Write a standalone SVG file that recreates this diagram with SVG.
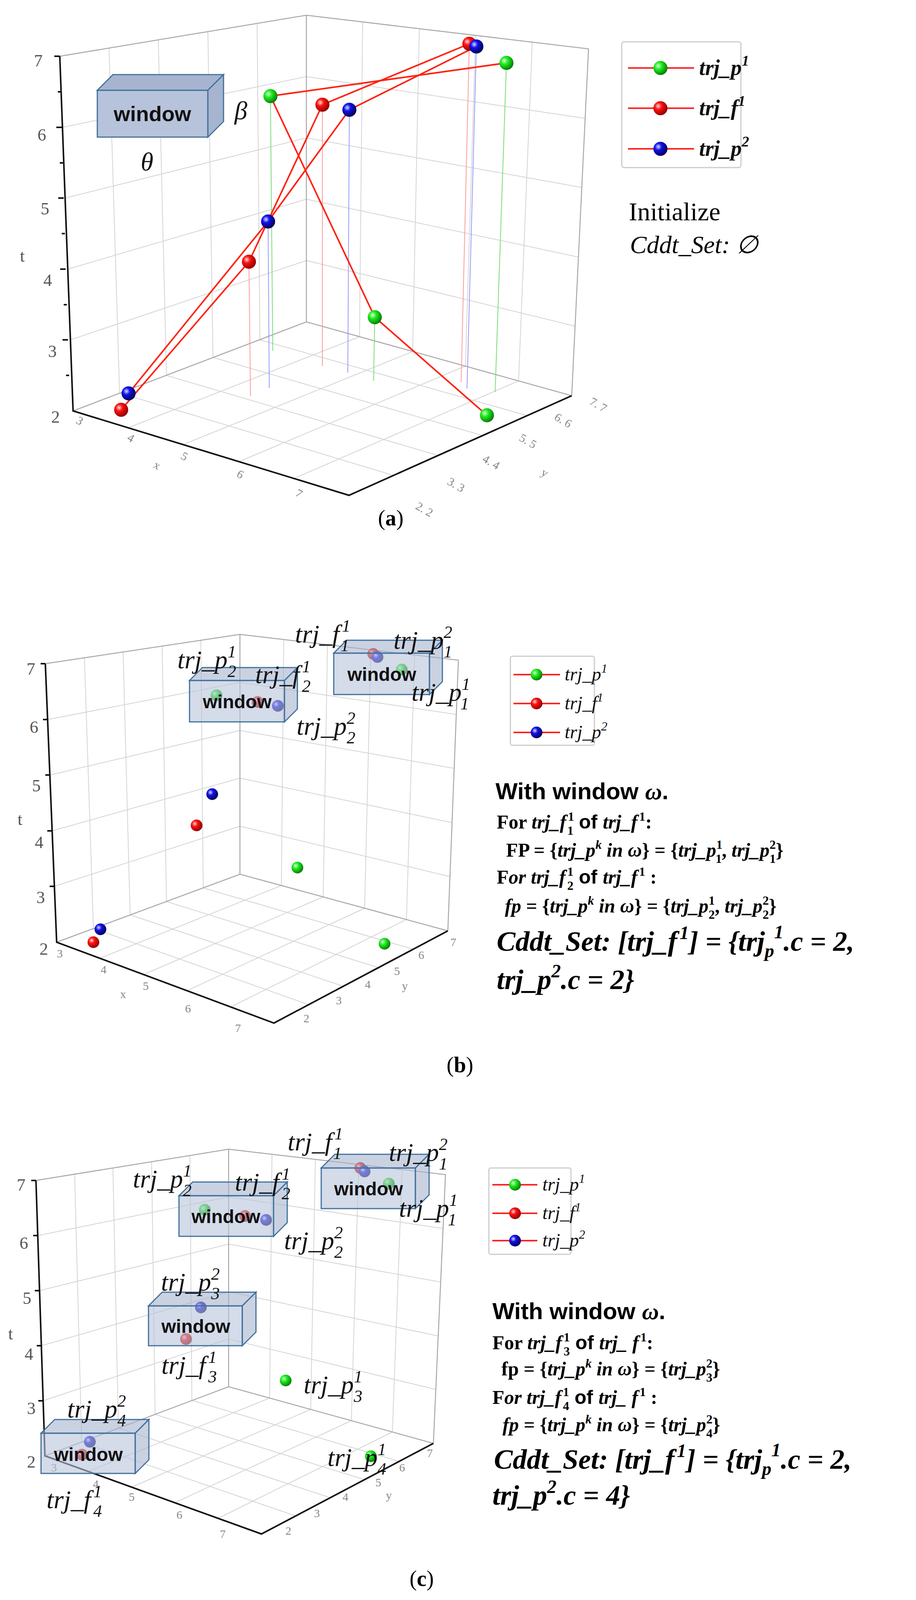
<svg xmlns="http://www.w3.org/2000/svg" width="2344" height="4107" viewBox="0 0 2344 4107">
<style>
.grid{stroke:#d4d4d4;stroke-width:2;fill:none}
.frame{stroke:#a8a8a8;stroke-width:2.5;fill:none}
.axis{stroke:#111;stroke-width:4;fill:none}
.traj{stroke:#f21;stroke-width:4;fill:none}
.dg{stroke:#7d7;stroke-width:2}.dr{stroke:#f99;stroke-width:2}.db{stroke:#99f;stroke-width:2}
.tk{font-family:"Liberation Serif",serif;font-size:44px;fill:#555;text-anchor:middle}
.tk2{font-family:"Liberation Serif",serif;font-size:30px;fill:#888;text-anchor:middle}
.lbl{font-family:"Liberation Serif",serif;font-style:italic;font-size:66px;fill:#111}
.lg{font-family:"Liberation Serif",serif;font-style:italic;font-weight:bold;font-size:56px;fill:#111}
.lg2{font-family:"Liberation Serif",serif;font-style:italic;font-size:48px;fill:#111}
.win{font-family:"Liberation Sans",sans-serif;font-weight:bold;text-anchor:middle;fill:#111}
.hd{font-family:"Liberation Sans",sans-serif;font-weight:bold;font-size:60px;fill:#000}
.tx{font-family:"Liberation Serif",serif;font-weight:bold;font-size:50px;fill:#000}
.big{font-family:"Liberation Serif",serif;font-style:italic;font-weight:bold;font-size:72px;fill:#000}
.it{font-style:italic}.sf{font-family:"Liberation Sans",sans-serif}.up{font-style:normal}
.bf{fill:#b7c3da;stroke:#41719c;stroke-width:3}
.bt{fill:#a6b4cf;stroke:#41719c;stroke-width:3}
.tb .bf,.tb .bt{fill-opacity:0.6}
.leg{fill:#fff;stroke:#ccc;stroke-width:3}
.lgl{stroke:#f22;stroke-width:4}
</style>
<defs>
<radialGradient id="gG" cx="0.35" cy="0.35" r="0.7"><stop offset="0" stop-color="#dfd"/><stop offset="0.35" stop-color="#2e2"/><stop offset="1" stop-color="#070"/></radialGradient>
<radialGradient id="gR" cx="0.35" cy="0.35" r="0.7"><stop offset="0" stop-color="#fdd"/><stop offset="0.35" stop-color="#f11"/><stop offset="1" stop-color="#800"/></radialGradient>
<radialGradient id="gB" cx="0.35" cy="0.35" r="0.7"><stop offset="0" stop-color="#ddf"/><stop offset="0.35" stop-color="#11e"/><stop offset="1" stop-color="#004"/></radialGradient>
</defs>
<rect width="2344" height="4107" fill="#fff"/>

<!-- ================= PANEL A ================= -->
<g id="panel-a-axes">
<g class="grid">
<path d="M180,870L784,667M173,689L784,510M167,507L784,353M160,326L784,196"/>
<path d="M279,123L306,1006M405,102L426,961M532,81L545,915M658,60L665,870"/>
<path d="M784,667L1472,835M784,510L1480,658M784,353L1489,480M784,196L1497,303"/>
<path d="M928,56L920,862M1073,73L1056,900M1217,91L1191,937M1362,108L1327,975"/>
<path d="M328,1095L920,862M469,1138L1056,900M611,1182L1191,937M752,1225L1327,975"/>
<path d="M306,1006L1007,1217M426,961L1121,1166M545,915L1235,1115M665,870L1349,1064"/>
</g>
<path class="frame" d="M153,144L784,39L1506,125L1463,1013M784,39L784,824M187,1052L784,824L1463,1013"/>
<path class="axis" d="M153,144L187,1052L893,1268L1463,1013"/>
<path class="axis" d="M153,144h-14M158,326h-14M163,507h-14M168,689h-14M174,870h-14M156,235h-8M161,417h-8M166,598h-8M171,780h-8M177,961h-8"/>
<text class="tk" x="98" y="170" font-size="56">7</text><text class="tk" x="107" y="360" font-size="56">6</text><text class="tk" x="115" y="549" font-size="56">5</text><text class="tk" x="122" y="732" font-size="56">4</text><text class="tk" x="134" y="914" font-size="56">3</text><text class="tk" x="142" y="1082" font-size="56">2</text>
<text class="tk" x="57" y="670" font-size="60">t</text>
<text class="tk2" x="204" y="1087" transform="rotate(30 204 1077)">3</text><text class="tk2" x="335" y="1131" transform="rotate(30 335 1121)">4</text><text class="tk2" x="472" y="1178" transform="rotate(30 472 1168)">5</text><text class="tk2" x="615" y="1224" transform="rotate(30 615 1214)">6</text><text class="tk2" x="765" y="1273" transform="rotate(30 765 1263)">7</text><text class="tk2" x="402" y="1201" transform="rotate(30 402 1191)">x</text>
<text class="tk2" x="1086" y="1314" transform="rotate(30 1086 1304)">2. 2</text><text class="tk2" x="1167" y="1251" transform="rotate(30 1167 1241)">3. 3</text><text class="tk2" x="1257" y="1193" transform="rotate(30 1257 1183)">4. 4</text><text class="tk2" x="1351" y="1139" transform="rotate(30 1351 1129)">5. 5</text><text class="tk2" x="1441" y="1086" transform="rotate(30 1441 1076)">6. 6</text><text class="tk2" x="1531" y="1046" transform="rotate(30 1531 1036)">7. 7</text><text class="tk2" x="1394" y="1220" transform="rotate(30 1394 1210)">y</text>
</g>
<g id="connectors-a">
<path class="dg" d="M692,246L698,898M959,812L956,975M1296,161L1267,1004"/>
<path class="dr" d="M825,268L825,937M637,670L641,1014M1201,112L1180,978"/>
<path class="db" d="M894,281L890,954M686,567L689,993M1219,119L1195,995"/>
<path class="traj" d="M310,1049L637,670L825,268L1201,112"/>
<path class="traj" d="M329,1007L686,567L894,281L1219,119"/>
<path class="traj" d="M1296,161L692,246L959,812L1246,1063"/>
</g>
<g id="points-a">
<circle cx="692" cy="246" r="18" fill="url(#gG)"/><circle cx="959" cy="812" r="18" fill="url(#gG)"/><circle cx="1296" cy="161" r="18" fill="url(#gG)"/><circle cx="1246" cy="1063" r="18" fill="url(#gG)"/>
<circle cx="825" cy="268" r="18" fill="url(#gR)"/><circle cx="637" cy="670" r="18" fill="url(#gR)"/><circle cx="310" cy="1049" r="18" fill="url(#gR)"/><circle cx="1201" cy="112" r="18" fill="url(#gR)"/>
<circle cx="894" cy="281" r="18" fill="url(#gB)"/><circle cx="686" cy="567" r="18" fill="url(#gB)"/><circle cx="329" cy="1007" r="18" fill="url(#gB)"/><circle cx="1219" cy="119" r="18" fill="url(#gB)"/>
</g>
<g id="window-a">
<rect class="bf" x="249" y="231" width="283" height="120"/>
<polygon class="bt" points="249,231 289,191 572,191 532,231"/>
<polygon class="bt" points="532,231 572,191 572,311 532,351"/>
<text class="win" x="390" y="310" font-size="54">window</text>
</g>
<text class="lbl" x="600" y="305" font-size="56">β</text>
<text class="lbl" x="360" y="436" font-size="56">θ</text>
<g id="legend-a">
<rect class="leg" x="1591" y="107" width="305" height="322" rx="6"/>
<path class="lgl" d="M1607,174h169M1607,277h169M1607,381h169"/>
<circle cx="1690" cy="174" r="18" fill="url(#gG)"/><circle cx="1690" cy="277" r="18" fill="url(#gR)"/><circle cx="1690" cy="381" r="18" fill="url(#gB)"/>
<text class="lg" x="1789" y="192">trj_p<tspan font-size="38" dy="-24">1</tspan></text>
<text class="lg" x="1789" y="295">trj_f<tspan font-size="38" dy="-24">1</tspan></text>
<text class="lg" x="1789" y="399">trj_p<tspan font-size="38" dy="-24">2</tspan></text>
</g>
<g id="text-a">
<text x="1609" y="564" font-family="Liberation Serif, serif" font-size="66">Initialize</text>
<text x="1612" y="648" font-family="Liberation Serif, serif" font-size="64" font-style="italic">Cddt_Set: ∅</text>
<text x="1000" y="1345" font-family="Liberation Serif, serif" font-size="56" text-anchor="middle">(<tspan font-weight="bold">a</tspan>)</text>
</g>

<!-- ================= PANEL B ================= -->
<g id="panel-b-axes">
<g class="grid">
<path d="M139,2269L614,2115M133,2127L614,1992M128,1984L614,1870M122,1842L614,1747"/>
<path d="M216,1684L239,2377M315,1669L333,2342M415,1654L426,2308M514,1639L520,2273"/>
<path d="M614,2115L1151,2244M614,1992L1157,2106M614,1870L1162,1967M614,1747L1168,1829"/>
<path d="M726,1637L720,2267M838,1650L827,2296M949,1664L933,2325M1061,1677L1040,2354"/>
<path d="M256,2453L720,2267M367,2495L827,2296M479,2536L933,2325M590,2578L1040,2354"/>
<path d="M239,2377L790,2572M333,2342L879,2525M426,2308L968,2477M520,2273L1057,2430"/>
</g>
<path class="frame" d="M116,1699L614,1624L1173,1690L1146,2383M614,1624L614,2238M145,2412L614,2238L1146,2383"/>
<path class="axis" d="M116,1699L145,2412L701,2619L1146,2383" stroke-width="3.5"/>
<path class="axis" stroke-width="3" d="M116,1699h-12M122,1842h-12M128,1984h-12M133,2127h-12M139,2269h-12"/>
<text class="tk" x="79" y="1727">7</text><text class="tk" x="87" y="1876">6</text><text class="tk" x="93" y="2026">5</text><text class="tk" x="100" y="2171">4</text><text class="tk" x="104" y="2312">3</text><text class="tk" x="112" y="2444">2</text>
<text class="tk" x="51" y="2112" font-size="52">t</text>
<g class="tk2"><text x="153" y="2451">3</text><text x="265" y="2492">4</text><text x="373" y="2534">5</text><text x="315" y="2555">x</text><text x="481" y="2592">6</text><text x="609" y="2642">7</text><text x="784" y="2617">2</text><text x="867" y="2571">3</text><text x="941" y="2530">4</text><text x="1016" y="2496">5</text><text x="1078" y="2455">6</text><text x="1160" y="2422">7</text><text x="1036" y="2534">y</text></g>
</g>
<g id="points-b">
<circle cx="257" cy="2379" r="15" fill="url(#gB)"/><circle cx="239" cy="2412" r="15" fill="url(#gR)"/>
<circle cx="543" cy="2033" r="15" fill="url(#gB)"/><circle cx="503" cy="2113" r="15" fill="url(#gR)"/>
<circle cx="761" cy="2221" r="15" fill="url(#gG)"/><circle cx="984" cy="2416" r="15" fill="url(#gG)"/>
<circle cx="554" cy="1780" r="15" fill="url(#gG)"/><circle cx="659" cy="1797" r="15" fill="url(#gR)"/><circle cx="711" cy="1807" r="15" fill="url(#gB)"/>
<circle cx="955" cy="1674" r="15" fill="url(#gR)"/><circle cx="966" cy="1682" r="15" fill="url(#gB)"/><circle cx="1028" cy="1714" r="15" fill="url(#gG)"/>
</g>
<g id="window-b1" class="tb">
<rect class="bf" x="485" y="1742" width="243" height="106"/>
<polygon class="bt" points="485,1742 518,1709 761,1709 728,1742"/>
<polygon class="bt" points="728,1742 761,1709 761,1815 728,1848"/>
<text class="win" x="607" y="1813" font-size="48">window</text>
</g>
<g id="window-b2" class="tb">
<rect class="bf" x="854" y="1672" width="245" height="106"/>
<polygon class="bt" points="854,1672 887,1639 1132,1639 1099,1672"/>
<polygon class="bt" points="1099,1672 1132,1639 1132,1745 1099,1778"/>
<text class="win" x="977" y="1743" font-size="48">window</text>
</g>
<g id="labels-b" class="lbl">
<text x="755" y="1645">trj_f<tspan font-size="44" dx="6" dy="-28">1</tspan><tspan font-size="44" dx="-22" dy="50">1</tspan></text>
<text x="1007" y="1661">trj_p<tspan font-size="44" dy="-28">2</tspan><tspan font-size="44" dx="-22" dy="50">1</tspan></text>
<text x="454" y="1711">trj_p<tspan font-size="44" dy="-28">1</tspan><tspan font-size="44" dx="-22" dy="50">2</tspan></text>
<text x="653" y="1749">trj_f<tspan font-size="44" dx="6" dy="-28">1</tspan><tspan font-size="44" dx="-22" dy="50">2</tspan></text>
<text x="1053" y="1794">trj_p<tspan font-size="44" dy="-28">1</tspan><tspan font-size="44" dx="-22" dy="50">1</tspan></text>
<text x="759" y="1881">trj_p<tspan font-size="44" dy="-28">2</tspan><tspan font-size="44" dx="-22" dy="50">2</tspan></text>
</g>
<g id="legend-b">
<rect class="leg" x="1306" y="1680" width="215" height="228" rx="5"/>
<path class="lgl" d="M1314,1727h119M1314,1801h119M1314,1875h119"/>
<circle cx="1373" cy="1727" r="15" fill="url(#gG)"/><circle cx="1373" cy="1801" r="15" fill="url(#gR)"/><circle cx="1373" cy="1875" r="15" fill="url(#gB)"/>
<text class="lg2" x="1445" y="1742">trj_p<tspan font-size="32" dy="-20">1</tspan></text>
<text class="lg2" x="1445" y="1816">trj_f<tspan font-size="32" dy="-20">1</tspan></text>
<text class="lg2" x="1445" y="1890">trj_p<tspan font-size="32" dy="-20">2</tspan></text>
</g>
<g id="text-b">
<text class="hd" x="1268" y="2046">With window <tspan font-family="Liberation Serif, serif" font-style="italic">ω</tspan>.</text>
<text class="tx" x="1271" y="2121">For <tspan class="it">trj_f</tspan><tspan font-size="32" dx="4" dy="-20">1</tspan><tspan font-size="32" dx="-16" dy="36">1</tspan><tspan class="sf" dy="-16"> of </tspan><tspan class="it">trj_f</tspan><tspan font-size="32" dx="4" dy="-20">1</tspan><tspan dy="20">:</tspan></text>
<text class="tx" x="1295" y="2193">FP = {<tspan class="it">trj_p</tspan><tspan class="it" font-size="32" dy="-20">k</tspan><tspan class="it" dy="20"> in ω</tspan>} = {<tspan class="it">trj_p</tspan><tspan font-size="32" dy="-20">1</tspan><tspan font-size="32" dx="-16" dy="36">1</tspan><tspan dy="-16">, </tspan><tspan class="it">trj_p</tspan><tspan font-size="32" dy="-20">2</tspan><tspan font-size="32" dx="-16" dy="36">1</tspan><tspan dy="-16">}</tspan></text>
<text class="tx" x="1271" y="2262">F<tspan class="it">or</tspan> <tspan class="it">trj_f</tspan><tspan font-size="32" dx="4" dy="-20">1</tspan><tspan font-size="32" dx="-16" dy="36">2</tspan><tspan class="sf" dy="-16"> of </tspan><tspan class="it">trj_f</tspan><tspan font-size="32" dx="4" dy="-20">1</tspan><tspan dy="20"> :</tspan></text>
<text class="tx" x="1292" y="2336"><tspan class="it">fp</tspan> = {<tspan class="it">trj_p</tspan><tspan class="it" font-size="32" dy="-20">k</tspan><tspan class="it" dy="20"> in ω</tspan>} = {<tspan class="it">trj_p</tspan><tspan font-size="32" dy="-20">1</tspan><tspan font-size="32" dx="-16" dy="36">2</tspan><tspan dy="-16">, </tspan><tspan class="it">trj_p</tspan><tspan font-size="32" dy="-20">2</tspan><tspan font-size="32" dx="-16" dy="36">2</tspan><tspan dy="-16">}</tspan></text>
<text class="big" x="1271" y="2434">Cddt_Set: [trj_f<tspan font-size="48" dx="6" dy="-30">1</tspan><tspan dy="30">] = {trj</tspan><tspan font-size="48" dy="16">p</tspan><tspan font-size="48" dy="-48">1</tspan><tspan dy="32">.c = 2,</tspan></text>
<text class="big" x="1271" y="2532">trj_p<tspan font-size="48" dy="-30">2</tspan><tspan dy="30">.c = 2}</tspan></text>
<text x="1177" y="2745" font-family="Liberation Serif, serif" font-size="56" text-anchor="middle">(<tspan font-weight="bold">b</tspan>)</text>
</g>

<!-- ================= PANEL C ================= -->
<g id="panel-c-axes">
<g class="grid">
<path d="M110,3586L585,3428M106,3445L585,3307M101,3304L585,3185M97,3163L585,3064"/>
<path d="M191,3006L209,3692M289,2990L303,3656M388,2974L397,3621M486,2958L491,3585"/>
<path d="M585,3428L1115,3557M585,3307L1121,3420M585,3185L1128,3282M585,3064L1134,3145"/>
<path d="M696,2955L690,3579M807,2968L795,3608M918,2981L899,3637M1029,2994L1004,3666"/>
<path d="M226,3767L690,3579M337,3807L795,3608M447,3847L899,3637M558,3887L1004,3666"/>
<path d="M209,3692L757,3881M303,3656L845,3834M397,3621L933,3788M491,3585L1021,3741"/>
</g>
<path class="frame" d="M92,3022L585,2942L1140,3007L1109,3695M585,2942L585,3550M115,3727L585,3550L1109,3695"/>
<path class="axis" stroke-width="3.5" d="M92,3022L115,3727L669,3927L1109,3695"/>
<path class="axis" stroke-width="3" d="M92,3022h-12M97,3163h-12M101,3304h-12M106,3445h-12M110,3586h-12"/>
<text class="tk" x="54" y="3048">7</text><text class="tk" x="61" y="3197">6</text><text class="tk" x="69" y="3338">5</text><text class="tk" x="74" y="3481">4</text><text class="tk" x="80" y="3620">3</text><text class="tk" x="80" y="3757">2</text>
<text class="tk" x="27" y="3429" font-size="52">t</text>
<g class="tk2"><text x="138" y="3767">3</text><text x="245" y="3809">4</text><text x="337" y="3842">5</text><text x="459" y="3888">6</text><text x="570" y="3937">7</text><text x="738" y="3929">2</text><text x="811" y="3884">3</text><text x="884" y="3842">4</text><text x="968" y="3805">5</text><text x="1029" y="3767">6</text><text x="1100" y="3730">7</text><text x="995" y="3838">y</text></g>
</g>
<g id="points-c">
<circle cx="922" cy="2990" r="15" fill="url(#gR)"/><circle cx="933" cy="2999" r="15" fill="url(#gB)"/><circle cx="995" cy="3030" r="15" fill="url(#gG)"/>
<circle cx="524" cy="3097" r="15" fill="url(#gG)"/><circle cx="627" cy="3113" r="15" fill="url(#gR)"/><circle cx="681" cy="3123" r="15" fill="url(#gB)"/>
<circle cx="514" cy="3347" r="15" fill="url(#gB)"/><circle cx="476" cy="3428" r="15" fill="url(#gR)"/>
<circle cx="230" cy="3691" r="15" fill="url(#gB)"/><circle cx="210" cy="3724" r="15" fill="url(#gR)"/>
<circle cx="731" cy="3534" r="15" fill="url(#gG)"/><circle cx="949" cy="3728" r="15" fill="url(#gG)"/>
</g>
<g id="window-c1" class="tb">
<rect class="bf" x="822" y="2990" width="241" height="104"/>
<polygon class="bt" points="822,2990 857,2955 1098,2955 1063,2990"/>
<polygon class="bt" points="1063,2990 1098,2955 1098,3059 1063,3094"/>
<text class="win" x="943" y="3060" font-size="48">window</text>
</g>
<g id="window-c2" class="tb">
<rect class="bf" x="458" y="3061" width="242" height="104"/>
<polygon class="bt" points="458,3061 493,3026 735,3026 700,3061"/>
<polygon class="bt" points="700,3061 735,3026 735,3130 700,3165"/>
<text class="win" x="578" y="3131" font-size="48">window</text>
</g>
<g id="window-c3" class="tb">
<rect class="bf" x="380" y="3343" width="240" height="102"/>
<polygon class="bt" points="380,3343 415,3308 655,3308 620,3343"/>
<polygon class="bt" points="620,3343 655,3308 655,3410 620,3445"/>
<text class="win" x="501" y="3412" font-size="48">window</text>
</g>
<g id="window-c4" class="tb">
<rect class="bf" x="105" y="3669" width="241" height="103"/>
<polygon class="bt" points="105,3669 140,3634 381,3634 346,3669"/>
<polygon class="bt" points="346,3669 381,3634 381,3737 346,3772"/>
<text class="win" x="226" y="3740" font-size="48">window</text>
</g>
<g id="labels-c" class="lbl">
<text x="736" y="2945">trj_f<tspan font-size="44" dx="6" dy="-28">1</tspan><tspan font-size="44" dx="-22" dy="50">1</tspan></text>
<text x="995" y="2972">trj_p<tspan font-size="44" dy="-28">2</tspan><tspan font-size="44" dx="-22" dy="50">1</tspan></text>
<text x="340" y="3040">trj_p<tspan font-size="44" dy="-28">1</tspan><tspan font-size="44" dx="-22" dy="50">2</tspan></text>
<text x="601" y="3048">trj_f<tspan font-size="44" dx="6" dy="-28">1</tspan><tspan font-size="44" dx="-22" dy="50">2</tspan></text>
<text x="1021" y="3115">trj_p<tspan font-size="44" dy="-28">1</tspan><tspan font-size="44" dx="-22" dy="50">1</tspan></text>
<text x="727" y="3198">trj_p<tspan font-size="44" dy="-28">2</tspan><tspan font-size="44" dx="-22" dy="50">2</tspan></text>
<text x="412" y="3304">trj_p<tspan font-size="44" dy="-28">2</tspan><tspan font-size="44" dx="-22" dy="50">3</tspan></text>
<text x="413" y="3517">trj_f<tspan font-size="44" dx="6" dy="-28">1</tspan><tspan font-size="44" dx="-22" dy="50">3</tspan></text>
<text x="777" y="3567">trj_p<tspan font-size="44" dy="-28">1</tspan><tspan font-size="44" dx="-22" dy="50">3</tspan></text>
<text x="172" y="3629">trj_p<tspan font-size="44" dy="-28">2</tspan><tspan font-size="44" dx="-22" dy="50">4</tspan></text>
<text x="838" y="3753">trj_p<tspan font-size="44" dy="-28">1</tspan><tspan font-size="44" dx="-22" dy="50">4</tspan></text>
<text x="119" y="3861">trj_f<tspan font-size="44" dx="6" dy="-28">1</tspan><tspan font-size="44" dx="-22" dy="50">4</tspan></text>
</g>
<g id="legend-c">
<rect class="leg" x="1251" y="2990" width="210" height="221" rx="5"/>
<path class="lgl" d="M1260,3033h115M1260,3106h115M1260,3176h115"/>
<circle cx="1318" cy="3033" r="15" fill="url(#gG)"/><circle cx="1318" cy="3106" r="15" fill="url(#gR)"/><circle cx="1318" cy="3176" r="15" fill="url(#gB)"/>
<text class="lg2" x="1388" y="3048">trj_p<tspan font-size="32" dy="-20">1</tspan></text>
<text class="lg2" x="1388" y="3121">trj_f<tspan font-size="32" dy="-20">1</tspan></text>
<text class="lg2" x="1388" y="3191">trj_p<tspan font-size="32" dy="-20">2</tspan></text>
</g>
<g id="text-c">
<text class="hd" x="1260" y="3377">With window <tspan font-family="Liberation Serif, serif" font-style="italic">ω</tspan>.</text>
<text class="tx" x="1260" y="3454">For <tspan class="it">trj_f</tspan><tspan font-size="32" dx="4" dy="-20">1</tspan><tspan font-size="32" dx="-16" dy="36">3</tspan><tspan class="sf" dy="-16"> of </tspan><tspan class="it">trj_ f</tspan><tspan font-size="32" dx="4" dy="-20">1</tspan><tspan dy="20">:</tspan></text>
<text class="tx" x="1283" y="3521">fp = {<tspan class="it">trj_p</tspan><tspan class="it" font-size="32" dy="-20">k</tspan><tspan class="it" dy="20"> in ω</tspan>} = {<tspan class="it">trj_p</tspan><tspan font-size="32" dy="-20">2</tspan><tspan font-size="32" dx="-16" dy="36">3</tspan><tspan dy="-16">}</tspan></text>
<text class="tx" x="1260" y="3594">F<tspan class="it">or</tspan> <tspan class="it">trj_f</tspan><tspan font-size="32" dx="4" dy="-20">1</tspan><tspan font-size="32" dx="-16" dy="36">4</tspan><tspan class="sf" dy="-16"> of </tspan><tspan class="it">trj_ f</tspan><tspan font-size="32" dx="4" dy="-20">1</tspan><tspan dy="20"> :</tspan></text>
<text class="tx" x="1286" y="3664"><tspan class="it">fp</tspan> = {<tspan class="it">trj_p</tspan><tspan class="it" font-size="32" dy="-20">k</tspan><tspan class="it" dy="20"> in ω</tspan>} = {<tspan class="it">trj_p</tspan><tspan font-size="32" dy="-20">2</tspan><tspan font-size="32" dx="-16" dy="36">4</tspan><tspan dy="-16">}</tspan></text>
<text class="big" x="1264" y="3760">Cddt_Set: [trj_f<tspan font-size="48" dx="6" dy="-30">1</tspan><tspan dy="30">] = {trj</tspan><tspan font-size="48" dy="16">p</tspan><tspan font-size="48" dy="-48">1</tspan><tspan dy="32">.c = 2,</tspan></text>
<text class="big" x="1260" y="3852">trj_p<tspan font-size="48" dy="-30">2</tspan><tspan dy="30">.c = 4}</tspan></text>
<text x="1079" y="4060" font-family="Liberation Serif, serif" font-size="56" text-anchor="middle">(<tspan font-weight="bold">c</tspan>)</text>
</g>
</svg>
